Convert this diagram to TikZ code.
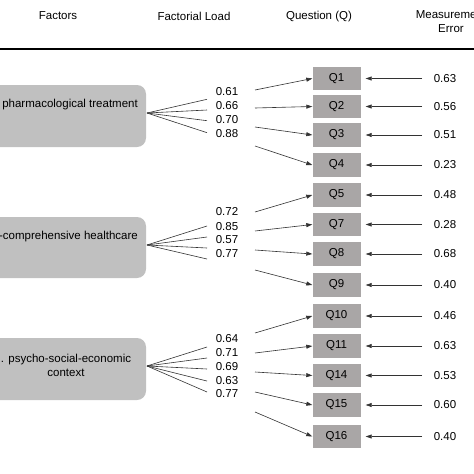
\documentclass[tikz,border=0pt]{standalone}
\usepackage{fontspec}
\setmainfont{Liberation Sans}
\usetikzlibrary{arrows.meta}
\definecolor{factorfill}{HTML}{C0C0C0}
\definecolor{qfill}{HTML}{A9A6A6}
\definecolor{linecol}{HTML}{333333}
\begin{document}
\begin{tikzpicture}[x=1pt,y=-1pt,
  every node/.style={font=\fontsize{11.5}{14}\selectfont, inner sep=0pt},
  factorbox/.style={draw=none, fill=factorfill, rounded corners=9pt, minimum width=166pt, minimum height=62pt},
  qbox/.style={draw=none, fill=qfill, minimum width=48pt, minimum height=23.5pt},
  loadline/.style={draw=linecol, line width=0.6pt},
  arr/.style={draw=linecol, line width=0.6pt, -{Triangle[length=6pt,width=4pt]}},
  errarr/.style={draw=linecol, line width=0.6pt, -{Triangle[length=6pt,width=4pt]}, shorten >=5pt}
]
\useasboundingbox (0,0) rectangle (474,474);
\fill[white] (0,0) rectangle (474,474);

% header
\node (hf) at (58,16) {Factors};
\node (hl) at (194,16) {Factorial Load};
\node (hq) at (319,17) {Question (Q)};
\node[align=center] (he) at (451,22) {Measurement\\Error};
\coordinate (rl) at (-2,49);
\coordinate (rr) at (476,49);
\draw[line width=2pt] (rl) -- (rr);

% factor boxes
\node[factorbox] (f1) at (63,116) {};
\node[factorbox, minimum height=61pt] (f2) at (63,247.5) {};
\node[factorbox] (f3) at (63,369) {};
\node[anchor=east] (t1) at (138,105) {pharmacological treatment};
\node[anchor=east] (t2) at (138,237) {-comprehensive healthcare};
\node[align=center] (t3) at (66,365) {. psycho-social-economic\\context};

% apexes
\coordinate (a1) at (147,113);
\coordinate (a2) at (147,245);
\coordinate (a3) at (147,366);

% Q boxes
\foreach \n/\y in {1/78.5,2/106.5,3/135,4/165,5/195,7/224.5,8/254,9/285,10/316,11/346,14/375.5,15/405,16/436.5}{
  \node[qbox] (q\n) at (336.5,\y) {Q\n};
}

% error values and arrows
\foreach \n/\y/\v in {1/78.5/0.63,2/106.5/0.56,3/135/0.51,4/165/0.23,5/195/0.48,7/224.5/0.28,8/254/0.68,9/285/0.40,10/316/0.46,11/346/0.63,14/375.5/0.53,15/405/0.60,16/436.5/0.40}{
  \node (ev\n) at (445,\y) {\v};
  \coordinate (es\n) at (422,\y);
  \draw[errarr] (es\n) -- (q\n.east);
}

% group 1 loads
\node (l11) at (227,92) {0.61};
\node (l12) at (227,106) {0.66};
\node (l13) at (227,119.5) {0.70};
\node (l14) at (227,134) {0.88};
\foreach \i/\y in {1/99.3,2/110,3/120.7,4/132.7}{
  \coordinate (e1\i) at (207,\y);
  \draw[loadline] (a1) -- (e1\i);
}
\foreach \i/\y/\q in {1/90/1,2/108/2,3/127/3,4/146/4}{
  \coordinate (s1\i) at (255,\y);
  \draw[arr] (s1\i) -- (q\q.west);
}

% group 2 loads
\node (l21) at (227,212) {0.72};
\node (l22) at (227,227) {0.85};
\node (l23) at (227,240) {0.57};
\node (l24) at (227,253.5) {0.77};
\foreach \i/\y in {1/226,2/237,3/248,4/259}{
  \coordinate (e2\i) at (207,\y);
  \draw[loadline] (a2) -- (e2\i);
}
\foreach \i/\y/\q in {1/212/5,2/231/7,3/250/8,4/270/9}{
  \coordinate (s2\i) at (255,\y);
  \draw[arr] (s2\i) -- (q\q.west);
}

% group 3 loads
\node (l31) at (227,339) {0.64};
\node (l32) at (227,353) {0.71};
\node (l33) at (227,367) {0.69};
\node (l34) at (227,381) {0.63};
\node (l35) at (227,394) {0.77};
\foreach \i/\y in {1/347,2/358,3/369,4/381,5/392}{
  \coordinate (e3\i) at (207,\y);
  \draw[loadline] (a3) -- (e3\i);
}
\foreach \i/\y/\q in {1/333/10,2/353/11,3/372/14,4/392/15,5/412/16}{
  \coordinate (s3\i) at (255,\y);
  \draw[arr] (s3\i) -- (q\q.west);
}
\end{tikzpicture}
\end{document}
